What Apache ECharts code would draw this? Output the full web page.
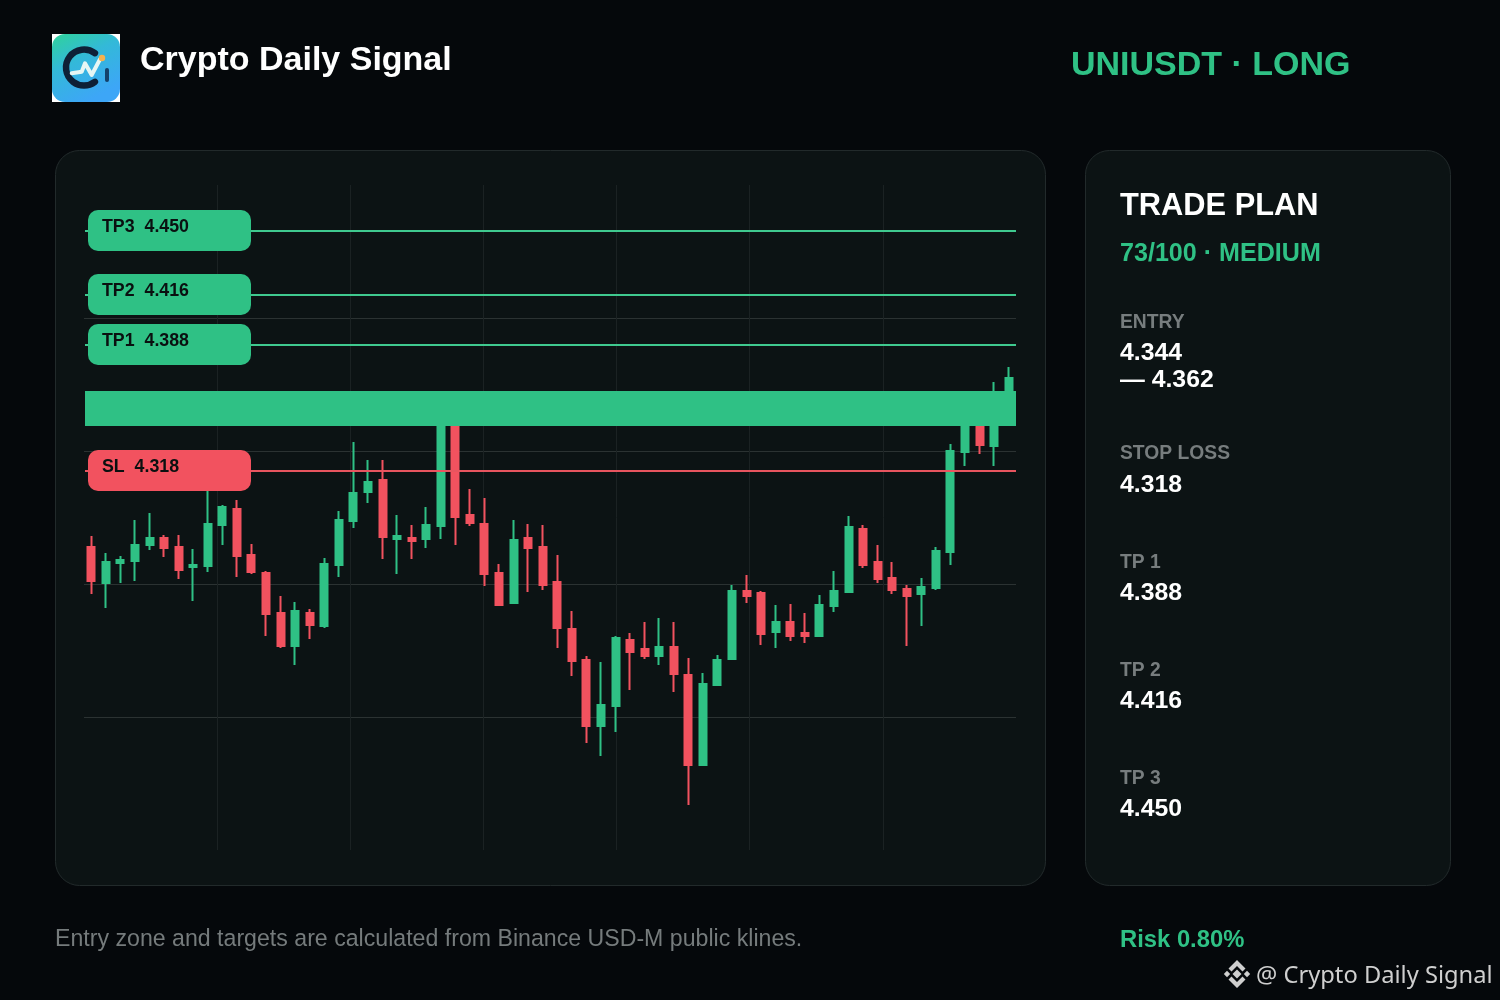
<!DOCTYPE html>
<html>
<head>
<meta charset="utf-8">
<title>Crypto Daily Signal</title>
<style>html,body{margin:0;padding:0;background:#05080b;}#c{width:1500px;height:1000px;}</style>
<script src="https://cdn.jsdelivr.net/npm/echarts@6/dist/echarts.min.js"></script>
</head>
<body>
<div id="c"></div>
<script>
const opens = [4.2758,4.2558,4.2669,4.2680,4.2769,4.2808,4.2758,4.2647,4.2653,4.2880,4.2969,4.2714,4.2614,4.2391,4.2208,4.2391,4.2319,4.2658,4.2903,4.3064,4.3130,4.2803,4.2808,4.2803,4.2875,4.3575,4.2936,4.2886,4.2614,4.2447,4.2808,4.2758,4.2564,4.2303,4.2130,4.1764,4.1875,4.2241,4.2191,4.2153,4.2203,4.2047,4.1547,4.1991,4.2136,4.2514,4.2503,4.2286,4.2341,4.2280,4.2264,4.2430,4.2508,4.2858,4.2675,4.2586,4.2525,4.2497,4.2530,4.2730,4.3286,4.3519,4.3319,4.3575];
const closes = [4.2569,4.2675,4.2686,4.2769,4.2808,4.2753,4.2630,4.2658,4.2886,4.2980,4.2708,4.2619,4.2386,4.2208,4.2403,4.2325,4.2664,4.2908,4.3058,4.3119,4.2814,4.2819,4.2791,4.2880,4.3575,4.2925,4.2891,4.2608,4.2436,4.2797,4.2753,4.2547,4.2308,4.2125,4.1764,4.1880,4.2253,4.2175,4.2153,4.2203,4.2053,4.1547,4.1997,4.2130,4.2514,4.2486,4.2275,4.2341,4.2264,4.2264,4.2436,4.2514,4.2869,4.2658,4.2580,4.2519,4.2486,4.2536,4.2736,4.3291,4.3508,4.3325,4.3575,4.3697];
const lows = [4.2497,4.2419,4.2558,4.2569,4.2741,4.2703,4.2580,4.2458,4.2619,4.2769,4.2591,4.2608,4.2264,4.2197,4.2103,4.2247,4.2308,4.2591,4.2864,4.3003,4.2691,4.2608,4.2691,4.2753,4.2803,4.2769,4.2875,4.2541,4.2430,4.2447,4.2508,4.2519,4.2197,4.2041,4.1669,4.1597,4.1730,4.1964,4.2136,4.2103,4.1953,4.1325,4.1541,4.1986,4.2130,4.2447,4.2214,4.2197,4.2236,4.2225,4.2264,4.2397,4.2508,4.2641,4.2558,4.2497,4.2208,4.2319,4.2519,4.2658,4.3208,4.3275,4.3208,4.3547];
const highs = [4.2819,4.2725,4.2708,4.2908,4.2947,4.2825,4.2825,4.2747,4.3080,4.2991,4.3019,4.2775,4.2625,4.2486,4.2453,4.2414,4.2697,4.2958,4.3341,4.3241,4.3241,4.2936,4.2880,4.2980,4.3597,4.3597,4.3080,4.3030,4.2664,4.2908,4.2886,4.2880,4.2714,4.2403,4.2153,4.2119,4.2264,4.2280,4.2341,4.2364,4.2341,4.2141,4.2058,4.2158,4.2547,4.2603,4.2514,4.2436,4.2441,4.2391,4.2491,4.2625,4.2930,4.2880,4.2769,4.2675,4.2547,4.2586,4.2758,4.3330,4.3547,4.3558,4.3675,4.3758];
const candleIndex = opens.map((_, i) => i);

const levelNames = ['TP3', 'TP2', 'TP1', 'SL'];
const levelTexts = ['4.450', '4.416', '4.388', '4.318'];
const levelPrices = [4.4514, 4.4158, 4.388, 4.318];
const levelKinds = ['tp', 'tp', 'tp', 'sl'];
const entryZone = [4.343, 4.3625];

const priceMin = 4.1075, priceMax = 4.4769;

const GREEN = '#2fc185', RED = '#f2525f', DARK = '#0c1314';

function txt(x, y, text, font, fill, align) {
  return { type: 'text', z: 20, x: x, y: y,
    style: { text: text, font: font, fill: fill, textAlign: align || 'left', textVerticalAlign: 'middle' } };
}
const SANS = '"Liberation Sans", Arial, sans-serif';
const planRows = [
  ['ENTRY', 323], ['4.344', 353, 1], ['— 4.362', 380, 1],
  ['STOP LOSS', 454], ['4.318', 485, 1],
  ['TP 1', 563], ['4.388', 593, 1],
  ['TP 2', 671], ['4.416', 701, 1],
  ['TP 3', 779], ['4.450', 809, 1]
];
const graphics = [
  { type: 'rect', z: -10, shape: { x: 55.5, y: 150.5, width: 990, height: 735, r: 24 },
    style: { fill: DARK, stroke: '#222a2b', lineWidth: 1 } },
  { type: 'rect', z: -10, shape: { x: 1085.5, y: 150.5, width: 365, height: 735, r: 24 },
    style: { fill: DARK, stroke: '#222a2b', lineWidth: 1 } },
  // logo
  { type: 'rect', z: 10, shape: { x: 52, y: 34, width: 68, height: 68 }, style: { fill: '#ffffff' } },
  { type: 'rect', z: 11, shape: { x: 52, y: 34, width: 68, height: 68, r: 13 },
    style: { fill: new echarts.graphic.LinearGradient(0, 0, 0.5, 1, [
      { offset: 0, color: '#2fd39a' }, { offset: 0.45, color: '#33b9d8' }, { offset: 1, color: '#3da6f7' }]) } },
  { type: 'arc', z: 12, shape: { cx: 84, cy: 67.5, r: 18, startAngle: -0.92, endAngle: 0.92, clockwise: false },
    style: { stroke: '#0e2036', lineWidth: 6.5, fill: null, lineCap: 'round' } },
  { type: 'polyline', z: 13, shape: { points: [[71.7, 73.3], [81.7, 71.7], [85, 63.3], [91.7, 75], [100, 59.3]] },
    style: { stroke: '#e6f6f4', lineWidth: 4, fill: null, lineJoin: 'round', lineCap: 'round' } },
  { type: 'circle', z: 14, shape: { cx: 102, cy: 58, r: 3.2 }, style: { fill: '#f6b24f' } },
  { type: 'rect', z: 13, shape: { x: 105, y: 68, width: 4, height: 14, r: 2 }, style: { fill: '#14406a' } },
  txt(140, 61, 'Crypto Daily Signal', 'bold 34px ' + SANS, '#ffffff'),
  txt(1071, 66, 'UNIUSDT · LONG', 'bold 34px ' + SANS, GREEN),
  txt(1120, 207, 'TRADE PLAN', 'bold 30.8px ' + SANS, '#ffffff'),
  txt(1120, 254, '73/100 · MEDIUM', 'bold 25.1px ' + SANS, GREEN),
  txt(55, 940, 'Entry zone and targets are calculated from Binance USD-M public klines.', '23.15px ' + SANS, '#757b7c'),
  txt(1120, 940, 'Risk 0.80%', 'bold 23.8px ' + SANS, GREEN),
  txt(1256, 976, '@ Crypto Daily Signal', '23.7px "Noto Sans", sans-serif', '#cfcfcf'),
  // watermark mark
  { type: 'polygon', z: 20, shape: { points: [[1237, 969.5], [1241.5, 974], [1237, 978.5], [1232.5, 974]] }, style: { fill: '#cfcfcf' } },
  { type: 'polygon', z: 20, shape: { points: [[1227, 970.8], [1230.2, 974], [1227, 977.2], [1223.8, 974]] }, style: { fill: '#cfcfcf' } },
  { type: 'polygon', z: 20, shape: { points: [[1247, 970.8], [1250.2, 974], [1247, 977.2], [1243.8, 974]] }, style: { fill: '#cfcfcf' } },
  { type: 'polygon', z: 20, shape: { points: [[1237, 960], [1245.5, 968.5], [1242.5, 971.5], [1237, 966], [1231.5, 971.5], [1228.5, 968.5]] }, style: { fill: '#cfcfcf' } },
  { type: 'polygon', z: 20, shape: { points: [[1237, 988], [1245.5, 979.5], [1242.5, 976.5], [1237, 982], [1231.5, 976.5], [1228.5, 979.5]] }, style: { fill: '#cfcfcf' } }
];
planRows.forEach(r => {
  graphics.push(r[2]
    ? txt(1120, r[1], r[0], 'bold 24.8px ' + SANS, '#ffffff')
    : txt(1120, r[1], r[0], 'bold 19.3px ' + SANS, '#777d7e'));
});

const hiddenAxisParts = { axisLine: { show: false }, axisTick: { show: false }, axisLabel: { show: false } };

const chart = echarts.init(document.getElementById('c'), null, { renderer: 'canvas' });
chart.setOption({
  animation: false,
  backgroundColor: '#05080b',
  graphic: { elements: graphics },
  grid: { left: 84, top: 185, width: 932, height: 665, containLabel: false },
  xAxis: [
    { type: 'category', data: candleIndex, boundaryGap: true, show: false },
    Object.assign({ type: 'value', min: 0, max: 7, interval: 1, position: 'bottom',
      splitLine: { show: true, showMinLine: false, showMaxLine: false, lineStyle: { color: '#1b2223', width: 1 } } }, hiddenAxisParts)
  ],
  yAxis: [
    { type: 'value', min: priceMin, max: priceMax, show: false, scale: true },
    Object.assign({ type: 'value', min: 0, max: 5, interval: 1, position: 'right',
      splitLine: { show: true, showMinLine: false, showMaxLine: false, lineStyle: { color: '#2b3232', width: 1 } } }, hiddenAxisParts)
  ],
  series: [
    {
      type: 'candlestick', xAxisIndex: 0, yAxisIndex: 0, z: 2, barWidth: 7.5,
      data: opens.map((o, i) => [o, closes[i], lows[i], highs[i]]),
      itemStyle: { color: GREEN, color0: RED, borderColor: GREEN, borderColor0: RED, borderWidth: 2 }
    },
    {
      type: 'custom', xAxisIndex: 0, yAxisIndex: 0, z: 3, clip: false,
      data: [[0, entryZone[0], entryZone[1]]],
      encode: { x: 0, y: [1, 2] },
      renderItem: (params, api) => {
        const cs = params.coordSys;
        const a = api.coord([0, api.value(1)]);
        const b = api.coord([0, api.value(2)]);
        return { type: 'rect', shape: { x: cs.x + 1, y: b[1], width: cs.width - 1, height: a[1] - b[1] }, style: { fill: GREEN } };
      }
    },
    {
      type: 'custom', xAxisIndex: 0, yAxisIndex: 0, z: 4, clip: false,
      data: levelPrices.map(p => [0, p]),
      encode: { x: 0, y: 1 },
      renderItem: (params, api) => {
        const cs = params.coordSys;
        const i = params.dataIndex;
        const y = Math.round(api.coord([0, api.value(1)])[1]);
        const sl = levelKinds[i] === 'sl';
        const col = sl ? RED : GREEN;
        return { type: 'group', children: [
          { type: 'rect', shape: { x: cs.x + 1, y: y - 1, width: cs.width - 1, height: 2 }, style: { fill: sl ? '#e8555f' : '#3fc98f' } },
          { type: 'rect', shape: { x: cs.x + 4, y: y - 21, width: 163, height: 41, r: 10 }, style: { fill: col } },
          { type: 'text', x: cs.x + 18, y: y - 3.5, style: { text: levelNames[i] + '  ' + levelTexts[i],
              font: 'bold 17.8px ' + SANS, fill: '#0a1010', textAlign: 'left', textVerticalAlign: 'middle' } }
        ] };
      }
    }
  ]
});
</script>
</body>
</html>
